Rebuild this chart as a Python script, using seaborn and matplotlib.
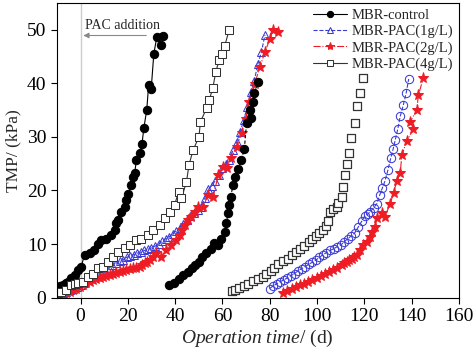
import matplotlib
matplotlib.use("Agg")
import matplotlib.pyplot as plt
import seaborn as sns

# ======================================
# Datos
# ======================================

# MBR-control
ctrl1_x = [-9.7, -8.5, -7.5, -6.3, -5.4, -4, -2.5, -1.1, 0.3, 1.7, 3.8, 5.9, 7.3, 8.8, 10.9, 13, 14.4, 15,
           15.8, 17.2, 18.6, 19.4, 20, 21.5, 22.2, 22.9, 23.6, 25, 26, 26.8, 28, 28.8, 29.9, 31, 32.3, 34.2, 34.7]
ctrl1_y = [2.0, 2.2, 2.4, 2.7, 3.0, 3.6, 4.2, 5.2, 5.8, 8.0, 8.3, 8.9, 10.1, 10.7, 11.0, 11.7, 12.6, 13.9,
           14.5, 16.0, 16.9, 18.2, 19.4, 21.0, 22.5, 23.2, 25.6, 26.9, 28.7, 31.7, 35.0, 39.6, 39.0, 45.5, 48.7, 47.1, 48.9]
ctrl2_x = [37.5, 39.5, 41.5, 43.5, 45.5, 47, 48.5, 50, 51.5, 53, 55, 56.5, 58, 59.5, 61, 61.7, 62.4, 63,
           63.5, 64.5, 65.5, 66.7, 68, 69.3, 70.2, 71.6, 72.3, 73, 73.5, 75]
ctrl2_y = [2.3, 2.8, 3.5, 4.2, 4.8, 5.5, 6.0, 6.7, 7.5, 8.3, 9.0, 10.2, 9.8, 11.0, 12.3, 14.0, 15.7, 17.3,
           18.8, 21.0, 22.5, 24.0, 25.6, 27.8, 32.5, 35.0, 33.5, 36.5, 38.2, 40.2]

# MBR-PAC(1g/L)
pac1_x1 = [-9, -7.5, -6, -4.5, -3, -1.5, 0, 1.5, 3, 4.5, 6, 7.5, 9, 10.5, 12, 13.5, 15, 16.5, 18, 19.5,
           21, 22.5, 24, 25.5, 27, 28.5, 30, 31.5, 33, 34.5, 36, 37.5, 39, 40.5, 42, 43.5, 45, 46.5, 48,
           49.5, 51, 52.5, 54, 55.5, 57, 58.5, 60, 61.5, 63, 64.5, 66, 67.5, 69, 70.5, 72, 73.5, 75, 76.5, 78]
pac1_y1 = [0.5, 0.8, 1.1, 1.4, 1.7, 2.0, 2.4, 2.8, 3.2, 3.6, 4.0, 4.4, 4.8, 5.2, 5.6, 6.0, 6.4, 6.8, 7.1,
           7.5, 7.8, 8.0, 8.3, 8.5, 8.8, 9.0, 9.3, 9.6, 10.0, 10.5, 11.0, 11.4, 11.9, 12.5, 13.0, 13.8, 14.5,
           15.3, 15.7, 16.3, 17.0, 18.5, 20.2, 20.9, 21.8, 22.9, 24.1, 24.9, 25.7, 27.5, 29.0, 30.9, 33.1,
           35.5, 38.4, 40.5, 43.6, 45.8, 49.0]
pac1_x2 = [80, 81.5, 83, 84.5, 86, 87.5, 89, 90.5, 92, 93.5, 95, 96.5, 98, 99.5, 101, 102.5, 104, 105.5,
           107, 108.5, 110, 111.5, 113, 114.5, 116, 117.5, 119, 120.3, 121.5, 122.5, 124, 125.3, 126.5,
           127.7, 128.8, 130, 131.2, 132.2, 133.1, 134.2, 135.2, 136.5, 137.7, 138.8]
pac1_y2 = [1.7, 2.2, 2.6, 3.0, 3.3, 3.7, 4.1, 4.5, 5.0, 5.4, 5.8, 6.2, 6.6, 7.0, 7.5, 8.0, 8.4, 8.8, 9.1,
           9.5, 9.8, 10.4, 11.0, 11.5, 12.1, 13.2, 14.3, 15.3, 15.6, 16.0, 16.8, 17.5, 19.1, 20.5, 21.8,
           23.8, 26.0, 27.7, 29.4, 31.5, 33.8, 35.9, 38.1, 40.8]

# MBR-PAC(2g/L)
pac2_x1 = [-9.6, -8, -6.1, -4.5, -3.3, -1.8, -0.4, 1, 2.4, 3.8, 5.2, 6.6, 8.1, 9.5, 10.9, 12.3, 13.7,
           15.1, 16.5, 18, 19.4, 20.8, 22.2, 23.6, 25, 26, 27.1, 28.2, 29.2, 30.6, 32.1, 34.2, 36.3, 38.4,
           40.5, 41.9, 43, 44.1, 45.5, 46.9, 48.3, 49.7, 51.8, 53.9, 56.1, 58.2, 60.3, 62, 63.8, 66, 68.1,
           69.9, 71.3, 73.7, 75.8, 78, 80.1, 81.5, 83.5]
pac2_y1 = [0.2, 0.5, 0.8, 1.1, 1.4, 1.7, 2.0, 2.3, 2.7, 3.0, 3.3, 3.5, 3.6, 3.8, 4.0, 4.3, 4.5, 4.6, 4.8,
           5.0, 5.2, 5.3, 5.5, 5.6, 5.8, 6.0, 6.4, 6.6, 7.0, 7.5, 8.3, 7.6, 8.9, 9.8, 10.7, 11.7, 12.7,
           13.5, 14.5, 15.1, 16.0, 16.9, 16.9, 19.1, 18.8, 22.8, 24.4, 24.1, 26.1, 28.1, 30.7, 33.4, 36.5,
           39.9, 43.0, 45.8, 48.3, 50.0, 49.5]
pac2_x2 = [85.7, 87.5, 89.3, 91, 92.8, 94.5, 96.3, 98, 99.9, 101.6, 103.4, 105.2, 106.9, 108.6, 110.4,
           111.5, 112.6, 113.7, 114.7, 115.8, 116.8, 118.2, 119.6, 121.1, 122.5, 123.2, 124.6, 125.3,
           127.4, 128.8, 130.9, 132.4, 133.8, 135.2, 135.9, 138, 140.8, 139.4, 142.2, 142.9, 145]
pac2_y2 = [0.8, 1.2, 1.6, 2.0, 2.3, 2.6, 2.9, 3.3, 3.6, 4.0, 4.4, 4.8, 5.2, 5.6, 6.0, 6.4, 6.7, 7.0, 7.3,
           7.6, 8.0, 8.9, 9.8, 10.4, 11.4, 12.3, 13.2, 14.8, 15.7, 15.1, 17.5, 19.5, 21.8, 23.2, 26.6,
           29.2, 31.5, 32.8, 35.0, 37.8, 41.0]

# MBR-PAC(4g/L)
pac4_x1 = [-9.6, -8.2, -6.1, -4, -2.5, -1.1, 1, 3.1, 5.2, 7.3, 9.4, 11.6, 13.7, 15.8, 18.6, 20.8, 23.6,
           25.7, 28.5, 30.6, 33.5, 35.6, 37.7, 39.8, 41.5, 42.7, 44.8, 45.9, 47.6, 50.1, 50.7, 53.3, 54.4,
           56, 57.2, 58.6, 60, 61, 62.9]
pac4_y1 = [0.8, 1.1, 1.4, 2.4, 2.6, 2.7, 3.0, 3.9, 4.5, 5.5, 5.8, 6.7, 7.6, 8.6, 9.2, 9.8, 10.7, 11.0,
           11.7, 12.6, 13.5, 14.8, 16.0, 17.3, 19.8, 18.5, 21.6, 24.8, 27.5, 30.0, 32.8, 35.3, 36.8, 39.2,
           42.1, 44.3, 45.4, 47.0, 50.0]
pac4_x2 = [64, 65.5, 67, 69, 71, 73, 75, 77, 78.5, 80.5, 82, 83.6, 85.7, 87.8, 89.3, 91, 92.8, 94.5, 96.5,
           98, 99.5, 101, 102.5, 104, 104.8, 105.5, 106.9, 108.3, 109, 110.4, 111.1, 112, 112.8, 113.5,
           114.5, 116, 117, 118.2, 119.3]
pac4_y2 = [1.2, 1.5, 1.8, 2.1, 2.6, 3.1, 3.5, 3.9, 4.5, 5.0, 5.6, 6.3, 6.9, 7.3, 7.9, 8.5, 9.1, 9.7, 10.3,
           10.9, 11.5, 12.1, 12.7, 13.4, 14.3, 16.0, 16.6, 17.0, 17.6, 18.8, 20.7, 22.8, 25.0, 26.9, 29.8,
           32.6, 35.8, 38.2, 41.0]

x_ticks = [0, 20, 40, 60, 80, 100, 120, 140, 160]
y_ticks = [0, 10, 20, 30, 40, 50]

# ======================================
# Estilo
# ======================================

sns.set_style("ticks")
plt.rcParams["font.family"] = ["Liberation Serif", "DejaVu Serif"]
plt.rcParams["mathtext.fontset"] = "custom"
plt.rcParams["mathtext.it"] = "Liberation Serif:italic"
plt.rcParams["mathtext.rm"] = "Liberation Serif"

fig, ax = plt.subplots(figsize=(4.74, 3.51), dpi=100)
fig.subplots_adjust(left=0.12, right=0.968, bottom=0.152, top=0.992)

# linea de adición de PAC
ax.axvline(0, color="#cccccc", lw=1, zorder=0)

common = dict(ax=ax, sort=False, estimator=None, lw=0.8)

sns.lineplot(x=ctrl1_x, y=ctrl1_y, color="black", marker="o", markersize=6,
             markeredgecolor="black", label="MBR-control", **common)
sns.lineplot(x=pac1_x1, y=pac1_y1, color="#3b3bd6", marker="^", markersize=6, linestyle="--",
             markerfacecolor="none", markeredgecolor="#3b3bd6", label="MBR-PAC(1g/L)", **common)
sns.lineplot(x=pac2_x1, y=pac2_y1, color="#ee1c25", marker="*", markersize=8, linestyle="-.",
             markeredgecolor="#ee1c25", label="MBR-PAC(2g/L)", **common)
sns.lineplot(x=pac4_x1, y=pac4_y1, color="#333333", marker="s", markersize=5.5,
             markerfacecolor="white", markeredgecolor="#333333", label="MBR-PAC(4g/L)", **common)

# segunda fase
sns.lineplot(x=ctrl2_x, y=ctrl2_y, color="black", marker="o", markersize=6, linestyle=(0, (3, 2)),
             markeredgecolor="black", legend=False, **common)
sns.lineplot(x=pac1_x2, y=pac1_y2, color="#3b3bd6", marker="o", markersize=6, linestyle="--",
             markerfacecolor="none", markeredgecolor="#3b3bd6", legend=False, **common)
sns.lineplot(x=pac2_x2, y=pac2_y2, color="#ee1c25", marker="*", markersize=8, linestyle="-.",
             markeredgecolor="#ee1c25", legend=False, **common)
sns.scatterplot(x=pac4_x2, y=pac4_y2, marker="s", s=30, facecolor="white",
                edgecolor="#333333", linewidth=0.9, legend=False, ax=ax)

# anotación
ax.annotate("", xy=(0, 48.9), xytext=(29, 48.9),
            arrowprops=dict(arrowstyle="-|>", color="#888888", lw=0.8, mutation_scale=8))
ax.text(2, 50.8, "PAC addition", fontsize=10, va="center", ha="left")

# ======================================
# Ejes
# ======================================

ax.set_xlim(-10, 160)
ax.set_ylim(0, 55)
ax.set_xticks(x_ticks)
ax.set_yticks(y_ticks)
ax.tick_params(direction="out", labelsize=14, length=4, width=0.8, colors="black")
for s in ax.spines.values():
    s.set_visible(True)
    s.set_color("black")
    s.set_linewidth(0.8)

ax.set_xlabel(r"$\mathit{Operation\ time/}$ (d)", fontsize=14, labelpad=2)
ax.set_ylabel("TMP/ (kPa)", fontsize=12.5, labelpad=4)

ax.legend(loc="upper right", frameon=False, fontsize=10.5, handlelength=2.3, markerscale=0.75,
          handletextpad=0.3, labelspacing=0.2, borderaxespad=0.2, borderpad=0.2)

plt.savefig("out.png", dpi=100)
plt.close()
